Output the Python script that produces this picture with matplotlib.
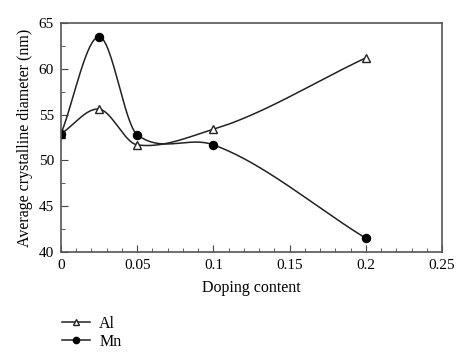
import numpy as np
import matplotlib
matplotlib.use('Agg')
import matplotlib.pyplot as plt
from matplotlib.ticker import MultipleLocator
from matplotlib.lines import Line2D

doping = [0, 0.025, 0.05, 0.1, 0.2]
al_size = [52.9, 55.6, 51.7, 53.4, 61.2]
mn_size = [52.9, 63.5, 52.8, 51.7, 41.5]


def smooth_line(x, y, num=60, tension=0.8):
    # cubic Hermite through the points, scaled finite-difference tangents
    x = np.asarray(x, float)
    y = np.asarray(y, float)
    n = len(x)
    m = np.empty(n)
    m[0] = (y[1] - y[0]) / (x[1] - x[0])
    m[-1] = (y[-1] - y[-2]) / (x[-1] - x[-2])
    for i in range(1, n - 1):
        m[i] = tension * (y[i + 1] - y[i - 1]) / (x[i + 1] - x[i - 1])
    xs_all, ys_all = [], []
    for i in range(n - 1):
        h = x[i + 1] - x[i]
        t = np.linspace(0, 1, num)
        h00 = 2 * t**3 - 3 * t**2 + 1
        h10 = t**3 - 2 * t**2 + t
        h01 = -2 * t**3 + 3 * t**2
        h11 = t**3 - t**2
        xs_all.append(x[i] + t * h)
        ys_all.append(h00 * y[i] + h10 * h * m[i] + h01 * y[i + 1] + h11 * h * m[i + 1])
    return np.concatenate(xs_all), np.concatenate(ys_all)


plt.rcParams['font.family'] = ['Liberation Serif', 'DejaVu Serif']

fig = plt.figure(figsize=(4.74, 3.64), dpi=100)
ax = fig.add_axes([0.1287, 0.3077, 0.804, 0.629])

lc = '#222222'
xs, ys = smooth_line(doping, al_size)
ax.plot(xs, ys, color=lc, lw=1.1)
ax.plot(doping, al_size, ls='none', marker='^', ms=5.5, mfc='white', mec=lc, mew=1.0)

xs, ys = smooth_line(doping, mn_size)
ax.plot(xs, ys, color=lc, lw=1.1)
ax.plot(doping, mn_size, ls='none', marker='o', ms=5.8, mfc='black', mec='black')

ax.set_xlim(0, 0.25)
ax.set_ylim(40, 65)
ax.xaxis.set_minor_locator(MultipleLocator(0.01))
ax.yaxis.set_major_locator(MultipleLocator(5))
ax.yaxis.set_minor_locator(MultipleLocator(2.5))
ax.set_xticks([0, 0.05, 0.1, 0.15, 0.2, 0.25])
ax.set_xticklabels(['0', '0.05', '0.1', '0.15', '0.2', '0.25'])
ax.tick_params(which='both', direction='in', top=False, right=False,
               labelsize=11, color='#444444', pad=5)
ax.tick_params(which='major', length=5)
ax.tick_params(which='minor', length=3)
for s in ax.spines.values():
    s.set_color('#555555')
    s.set_linewidth(1.2)

ax.set_xlabel('Doping content', fontsize=11.5, labelpad=6)
ax.set_ylabel('Average crystalline diameter (nm)', fontsize=11.5, labelpad=4)

handles = [
    Line2D([], [], color=lc, lw=1.1, marker='^', ms=4, mfc='white', mec=lc),
    Line2D([], [], color=lc, lw=1.1, marker='o', ms=4.5, mfc='black', mec='black'),
]
fig.legend(handles, ['Al', 'Mn'], loc='upper left', bbox_to_anchor=(0.115, 0.155),
           frameon=False, fontsize=11.5, handlelength=1.7, handletextpad=0.6,
           labelspacing=0.15, borderpad=0)

fig.savefig('out.png', dpi=100)
